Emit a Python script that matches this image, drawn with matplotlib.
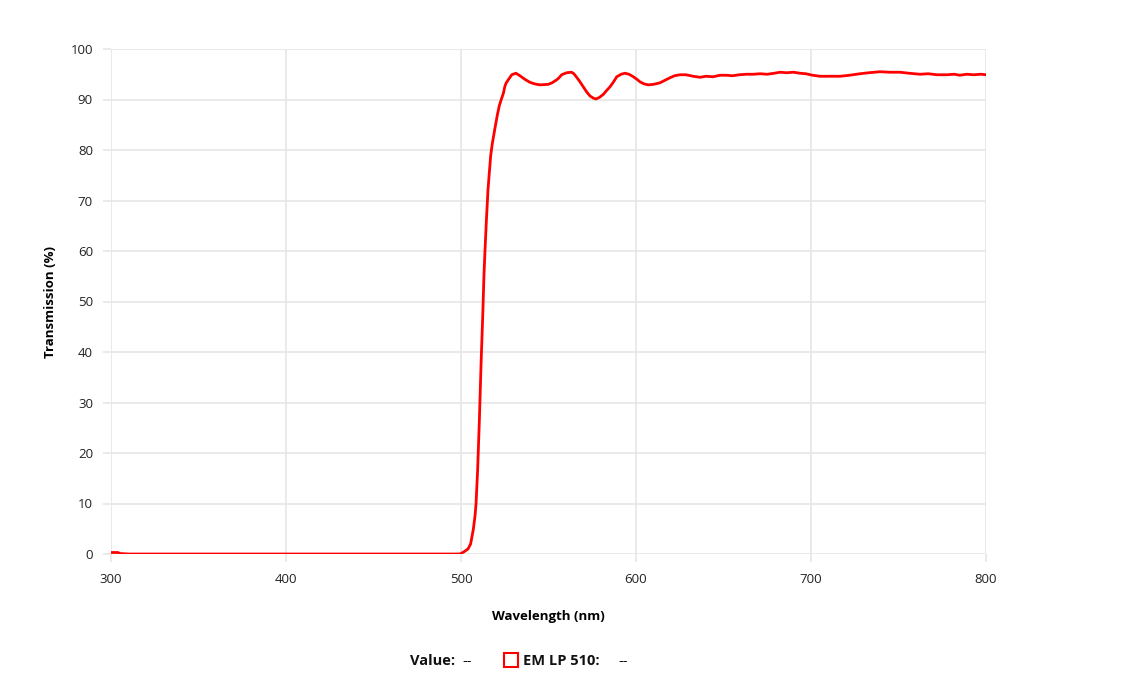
import matplotlib
matplotlib.use("Agg")
import matplotlib.pyplot as plt
from matplotlib.patches import Rectangle

wavelength = [300, 304, 305, 310, 400, 480, 499.5, 502, 504, 505.5, 507, 508, 508.6, 509.5,
              510.5, 511.5, 512.5, 513.1, 513.7, 514.5, 515.4, 516.3, 517.0, 517.9, 519.4,
              520.8, 521.9, 523.0, 524.2, 525.0, 525.7, 527.2, 529.0, 531.4, 533.7, 536.5,
              539.4, 542.0, 545.1, 549.9, 552.0, 554.7, 556.0, 557.5, 560.4, 563.2, 564.5,
              566.1, 568.0, 569.9, 571.8, 573.7, 575.5, 577.1, 579.0, 581.3, 583.0, 585.1,
              587.0, 589.0, 591.5, 593.7, 596.0, 598.5, 600.5, 602.3, 604.5, 607.0, 610.0,
              613.7, 616.5, 619.4, 622.0, 625.1, 628.5, 632.7, 636.6, 640.0, 644.0, 648.0,
              651.8, 655.0, 659.0, 663.0, 667.0, 671.0, 675.0, 679.0, 682.3, 686.0, 690.0,
              693.7, 697.0, 701.0, 705.1, 710.0, 716.6, 722.0, 728.0, 733.0, 739.4, 745.0,
              750.9, 756.0, 762.3, 767.0, 772.0, 777.5, 782.0, 785.0, 788.9, 793.0, 797.0, 800.0]
transmission = [0.3, 0.3, 0.1, 0.0, 0.0, 0.0, 0.0, 0.5, 1.0, 2.0, 4.8, 7.5, 10.0, 16.6,
                26.5, 38.0, 48.0, 55.0, 60.0, 66.0, 72.0, 76.0, 79.0, 81.3, 84.3,
                87.0, 88.8, 90.0, 91.2, 92.5, 93.2, 94.0, 94.9, 95.2, 94.7, 94.0,
                93.4, 93.1, 92.9, 93.0, 93.3, 93.9, 94.3, 94.9, 95.3, 95.4, 95.1,
                94.4, 93.5, 92.5, 91.5, 90.7, 90.3, 90.1, 90.4, 91.0, 91.7, 92.5,
                93.4, 94.5, 95.0, 95.2, 95.0, 94.5, 94.0, 93.5, 93.1, 92.9, 93.0,
                93.3, 93.8, 94.3, 94.7, 94.9, 94.9, 94.6, 94.4, 94.6, 94.5, 94.8,
                94.8, 94.7, 94.9, 95.0, 95.0, 95.1, 95.0, 95.2, 95.4, 95.3, 95.4,
                95.2, 95.1, 94.8, 94.6, 94.6, 94.6, 94.8, 95.1, 95.3, 95.5, 95.4,
                95.4, 95.2, 95.0, 95.1, 94.9, 94.9, 95.0, 94.8, 95.0, 94.9, 95.0, 94.9]

x_ticks = [300, 400, 500, 600, 700, 800]
y_ticks = [0, 10, 20, 30, 40, 50, 60, 70, 80, 90, 100]
series_name = "EM LP 510"

plt.rcParams['font.family'] = ['Open Sans', 'DejaVu Sans']

fig = plt.figure(figsize=(11.37, 6.83), dpi=100)
ax = fig.add_axes([111/1137, 1-554/683, (986-111)/1137, (554-49)/683])
ax.plot(wavelength, transmission, color='#ff0000', lw=2.0, solid_joinstyle='round')
ax.set_xlim(300, 800)
ax.set_ylim(0, 100)
ax.set_xticks(x_ticks)
ax.set_yticks(y_ticks)
ax.grid(True, color='#e6e6e6', lw=1.2)
ax.set_axisbelow(True)
for s in ax.spines.values():
    s.set_visible(False)
ax.tick_params(axis='both', colors='#e6e6e6', length=6, width=1.2, labelcolor='#222222',
               labelsize=9.5)
ax.tick_params(axis='y', pad=7)
ax.tick_params(axis='x', pad=8)
ax.set_xlabel('Wavelength (nm)', fontsize=9.5, fontweight='bold', labelpad=17)
ax.set_ylabel('Transmission (%)', fontsize=9.5, fontweight='bold', labelpad=10)

fig.text(455/1137, 1-661/683, 'Value:', ha='right', va='center', fontsize=10.5,
         fontweight='bold', color='#111111')
fig.text(462/1137, 1-661/683, '--', ha='left', va='center', fontsize=10.5, color='#111111')
fig.patches.append(Rectangle((504/1137, 1-667/683), 14/1137, 14/683, transform=fig.transFigure,
                             fill=False, edgecolor='#ff0000', lw=1.5))
fig.text(523/1137, 1-661/683, series_name + ':', ha='left', va='center', fontsize=10.5,
         fontweight='bold', color='#111111')
fig.text(618/1137, 1-661/683, '--', ha='left', va='center', fontsize=10.5, color='#111111')

fig.savefig('out.png', dpi=100)
